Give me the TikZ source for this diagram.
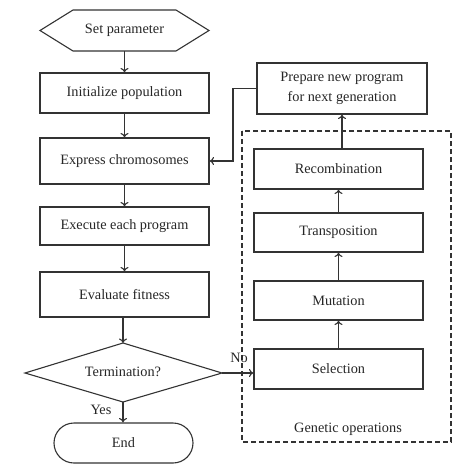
\documentclass[tikz,border=0pt]{standalone}
\usepackage{fontspec}
\setmainfont{Liberation Serif}
\usetikzlibrary{arrows.meta,shapes.geometric,shapes.misc}
\begin{document}
\begin{tikzpicture}[x=1pt,y=-1pt,
  line width=1.1pt, draw=black!80,
  box/.style={draw=black!80, line width=1.1pt, minimum width=#1, inner sep=0pt, font=\fontsize{14.3}{17}\selectfont, text=black!85},
  arr/.style={draw=black!80, line width=1.1pt, -{To[length=4.5pt,width=8pt]}},
  lbl/.style={font=\fontsize{14.3}{17}\selectfont, text=black!85, inner sep=0pt}]
\useasboundingbox (0,0) rectangle (474,474);
\fill[white] (0,0) rectangle (474,474);
% hexagon
\coordinate (h1) at (40,30.5);
\coordinate (h2) at (73,10);
\coordinate (h3) at (176,10);
\coordinate (h4) at (209,30.5);
\coordinate (h5) at (176,51);
\coordinate (h6) at (73,51);
\draw[line width=1.1pt, draw=black!80] (h1)--(h2)--(h3)--(h4)--(h5)--(h6)--cycle;
\node[lbl] (sp) at (124.5,30.5) {Set parameter};
\coordinate (spb) at (124.5,51);
% left boxes
\node[box=169pt, minimum height=40pt] (init) at (124.5,93) {Initialize population};
\node[box=169pt, minimum height=46pt] (expr) at (124.5,161) {Express chromosomes};
\node[box=169pt, minimum height=38pt] (exec) at (124.5,226) {Execute each program};
\node[box=169pt, minimum height=45pt] (eval) at (124.5,294.5) {Evaluate fitness};
% diamond
\coordinate (dt) at (123,343);
\coordinate (dr) at (222,373);
\coordinate (db) at (123,402);
\coordinate (dl) at (25,373);
\draw[line width=1.1pt, draw=black!80] (dt)--(dr)--(db)--(dl)--cycle;
\node[lbl] (term) at (123,372) {Termination?};
% end
\node[draw=black!80, line width=1.1pt, rounded rectangle, minimum width=139pt, minimum height=40pt, inner sep=0pt, font=\fontsize{14.3}{17}\selectfont, text=black!85] (endn) at (123.5,443) {End};
% right
\node[box=170pt, minimum height=51pt, align=center, font=\fontsize{14.3}{20}\selectfont] (prep) at (342,88.5) {Prepare new program\\for next generation};
\node[box=169pt, minimum height=40pt] (reco) at (338.5,169) {Recombination};
\node[box=169pt, minimum height=39pt] (trans) at (338.5,232.5) {Transposition};
\node[box=169pt, minimum height=39pt] (mut) at (338.5,300.5) {Mutation};
\node[box=169pt, minimum height=40pt] (sel) at (338.5,369) {Selection};
\draw[dashed, dash pattern=on 5pt off 3pt, line width=1.1pt, draw=black!80] (242,131) rectangle (451,442);
\node[lbl] (gen) at (348,429) {Genetic operations};
% arrows
\draw[arr] (spb) -- (init.north);
\draw[arr] (init) -- (expr);
\draw[arr] (expr) -- (exec);
\draw[arr] (exec.south) -- (exec.south |- eval.north);
\draw[arr] (eval.south -| dt) -- (dt);
\draw[arr] (db) -- (db |- endn.north);
\node[lbl] (yes) at (101,410) {Yes};
\draw[arr] (dr) -- (sel.west |- dr);
\node[lbl] (no) at (239,358) {No};
\draw[arr] (sel.north) -- (mut.south);
\draw[arr] (mut.north) -- (trans.south);
\draw[arr] (trans.north) -- (reco.south);
\draw[arr] (reco.north -| prep) -- (prep.south);
\coordinate (c1) at (233,88.5);
\coordinate (c2) at (233,161);
\draw[arr] (prep.west) -- (c1) -- (c2) -- (expr.east);
\end{tikzpicture}
\end{document}
